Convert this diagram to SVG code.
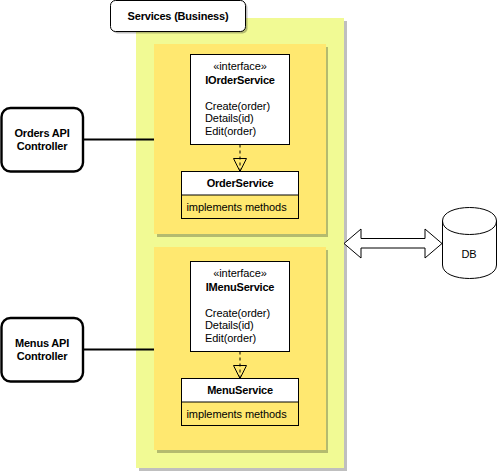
<svg xmlns="http://www.w3.org/2000/svg" width="497" height="473" viewBox="0 0 497 473">
<defs>
<style>
text{font-family:"Liberation Sans",Arial,sans-serif;font-size:11px;fill:#000;letter-spacing:-.08px}
.m{text-anchor:middle}
.b{font-weight:bold;letter-spacing:-.2px}
.sh{fill:#000;fill-opacity:.25}
.box{fill:#fff;stroke:#000;stroke-width:1}
.impl{fill:#ffe870;stroke:#000;stroke-width:1}
.ctl{fill:#fff;stroke:#000;stroke-width:2.4}
.con{fill:none;stroke:#000;stroke-width:2}
</style>
<marker id="tri" markerUnits="userSpaceOnUse" markerWidth="16" markerHeight="16" refX="14" refY="8" orient="auto"><path d="M1 1.500L14 8L1 14.500Z" fill="none" stroke="#000"/></marker>
</defs>
<g id="services-area">
<rect class="sh" x="139" y="21" width="208" height="450"/>
<rect x="136" y="18" width="208" height="450" fill="#f1fa94"/>
</g>
<g id="services-title">
<rect class="sh" x="112.500" y="2.500" width="135" height="31" rx="5"/>
<rect class="box" x="110.500" y="0.500" width="135" height="31" rx="5"/>
<text class="m b" x="178" y="20">Services (Business)</text>
</g>
<g id="order-panel">
<rect class="sh" x="157" y="47" width="171" height="190"/>
<rect x="154" y="44" width="172" height="190" fill="#ffe870"/>
</g>
<g id="menu-panel">
<rect class="sh" x="157" y="250" width="171" height="203"/>
<rect x="154" y="247" width="172" height="203" fill="#ffe870"/>
</g>
<g id="iorderservice">
<rect class="box" x="190.500" y="54.500" width="99" height="90"/>
<text class="m" x="240" y="70">«interface»</text>
<text class="m b" x="240" y="84">IOrderService</text>
<text x="205" y="110">Create(order)</text>
<text x="205" y="122">Details(id)</text>
<text x="205" y="135">Edit(order)</text>
</g>
<g id="orderservice">
<rect class="impl" x="181.500" y="171.500" width="117" height="47"/>
<rect class="box" x="181.500" y="171.500" width="117" height="23.500"/>
<text class="m b" x="240" y="187">OrderService</text>
<text x="186.500" y="211">implements methods</text>
</g>
<g id="imenuservice">
<rect class="box" x="190.500" y="261.500" width="99" height="90"/>
<text class="m" x="240" y="277">«interface»</text>
<text class="m b" x="240" y="291">IMenuService</text>
<text x="205" y="317">Create(order)</text>
<text x="205" y="329">Details(id)</text>
<text x="205" y="342">Edit(order)</text>
</g>
<g id="menuservice">
<rect class="impl" x="181.500" y="378.500" width="117" height="47"/>
<rect class="box" x="181.500" y="378.500" width="117" height="23.500"/>
<text class="m b" x="240" y="394">MenuService</text>
<text x="186.500" y="418">implements methods</text>
</g>
<g id="orders-controller">
<rect class="ctl" x="1.500" y="108" width="81.500" height="63.500" rx="9"/>
<text class="m b" x="42" y="137">Orders API</text>
<text class="m b" x="42" y="150">Controller</text>
</g>
<g id="menus-controller">
<rect class="ctl" x="1.500" y="318" width="81.500" height="63.500" rx="9"/>
<text class="m b" x="42" y="347">Menus API</text>
<text class="m b" x="42" y="360">Controller</text>
</g>
<g id="db">
<path d="M442.500 221c0-18 54-18 54 0v44c0 18-54 18-54 0Z" fill="#fff" stroke="#000"/>
<path d="M442.500 221c0 18 54 18 54 0" fill="none" stroke="#000"/>
<text class="m" x="469" y="258">DB</text>
</g>
<g id="connectors">
<path class="con" d="M83 139.500H154"/>
<path class="con" d="M83 349.500H154"/>
<path d="M240 144.500V171.500" fill="none" stroke="#000" stroke-dasharray="3 3" marker-end="url(#tri)"/>
<path d="M240 351.500V378.500" fill="none" stroke="#000" stroke-dasharray="3 3" marker-end="url(#tri)"/>
<path d="M344 243.500L361 229V238.500H425V229L442 243.500L425 258V248H361V258Z" fill="#fff" stroke="#000"/>
</g>
</svg>
